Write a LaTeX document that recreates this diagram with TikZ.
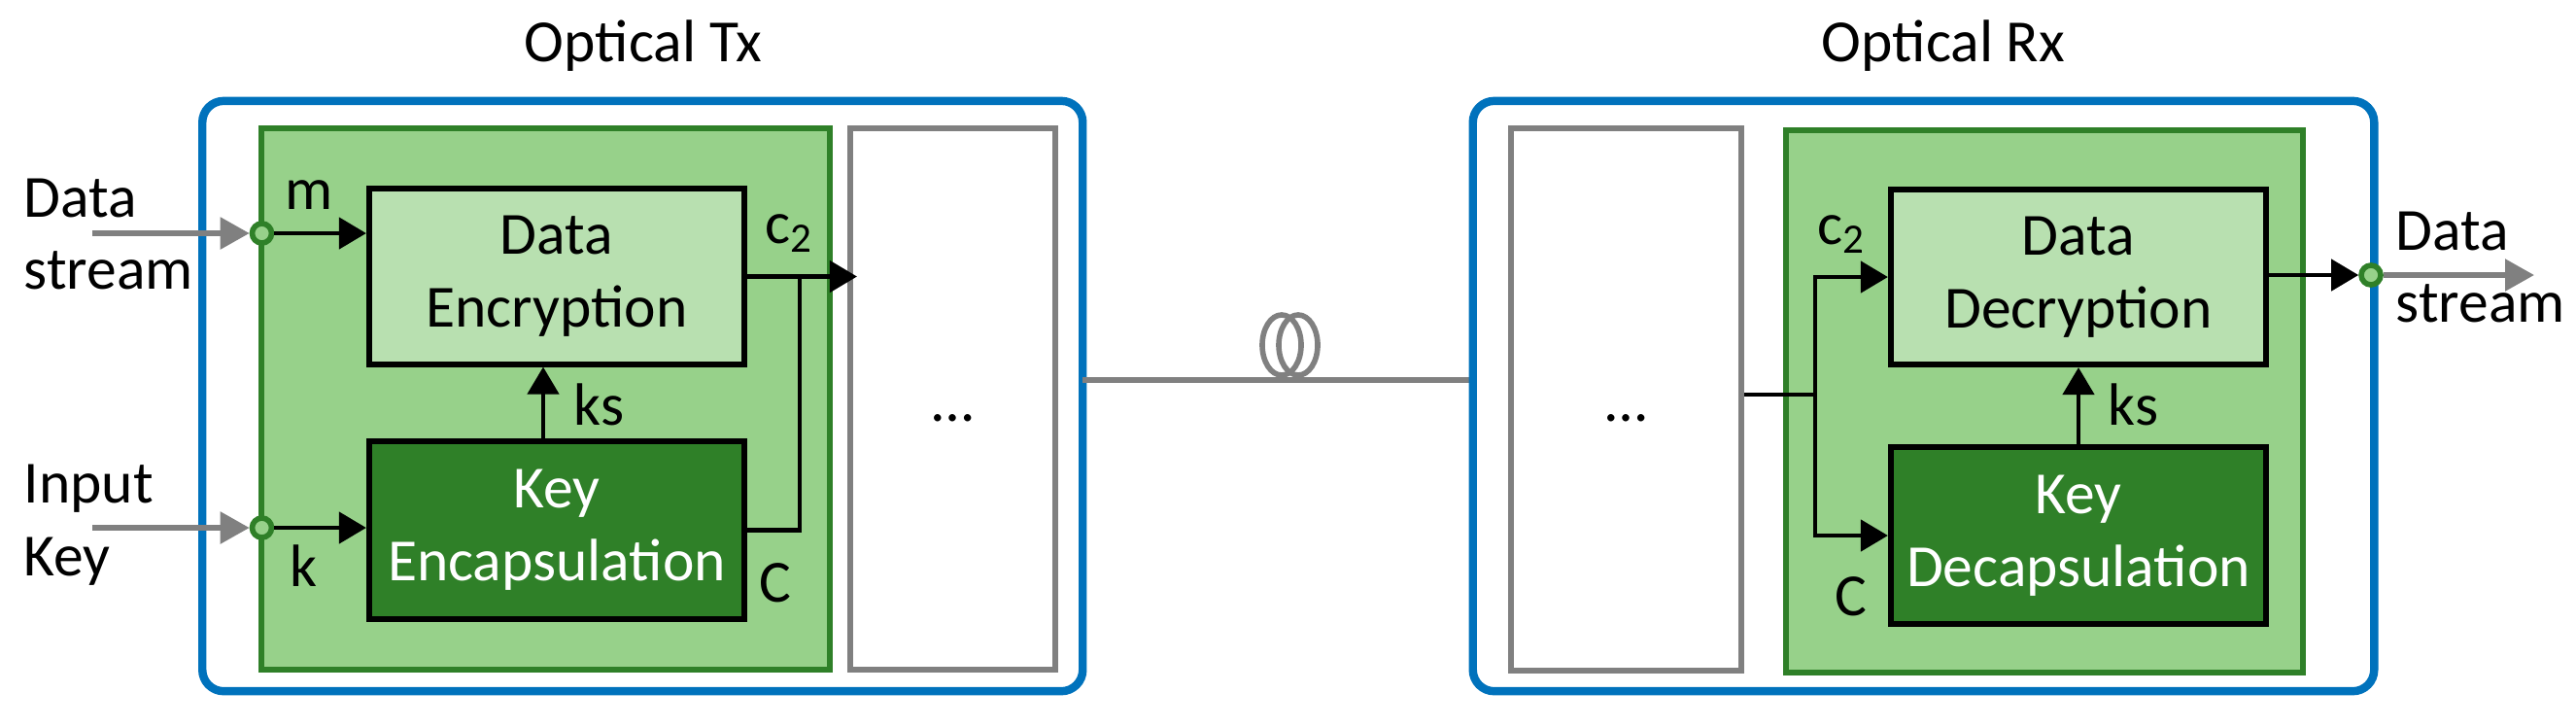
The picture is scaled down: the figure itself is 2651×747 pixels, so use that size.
\documentclass[tikz,border=0pt]{standalone}
\usepackage{fontspec}
\setmainfont{Carlito}
\usepackage{tikz}
\usetikzlibrary{arrows.meta}
\definecolor{optblue}{RGB}{0,114,188}
\definecolor{darkgrn}{RGB}{47,128,40}
\definecolor{midgrn}{RGB}{151,209,138}
\definecolor{lightgrn}{RGB}{184,224,176}
\definecolor{linegray}{RGB}{128,128,128}

\begin{document}
\begin{tikzpicture}[x=0.01cm,y=-0.01cm,
  every node/.style={font=\fontsize{17.5}{21.3}\selectfont,inner sep=0pt},
  unit/.style={draw=optblue,line width=2.4pt,rounded corners=0.22cm,minimum height=6.07cm},
  panel/.style={draw=darkgrn,fill=midgrn,line width=1.7pt,minimum height=5.57cm},
  spare/.style={draw=linegray,line width=1.7pt,minimum height=5.57cm},
  databox/.style={draw=black,fill=lightgrn,line width=1.7pt,minimum width=3.86cm,minimum height=1.8cm,align=center,
    execute at begin node={\rule{0pt}{0.52cm}}},
  keybox/.style={databox,fill=darkgrn,text=white,minimum height=1.82cm},
  port/.style={circle,draw=darkgrn,fill=midgrn,line width=1.6pt,minimum size=0.2cm},
  sig/.style={-{Triangle[length=0.28cm,width=0.32cm]},line width=1.3pt},
  wire/.style={line width=1.3pt},
  feed/.style={-{Triangle[length=0.3cm,width=0.32cm]},draw=linegray,line width=1.6pt},
  fiber/.style={draw=linegray,line width=1.6pt}]
\useasboundingbox (0,0) rectangle (2651,747);
% 光发射机
\node[unit,minimum width=9.055cm] (tx) at (661.25,407.5) {};
\node[anchor=base] (txtitle) at (662,63) {Optical Tx};
\node[panel,minimum width=5.84cm] (txpanel) at (561.5,410.5) {};
\node[spare,minimum width=2.11cm] (txspare) at (980.5,410.5) {};
\node[anchor=base] (txdots) at (980.5,433) {\dots};
\node[databox] (encr) at (573,284.5) {Data\\Encryption};
\node[keybox] (encap) at (573,545.5) {Key\\Encapsulation};
\node[port] (dinport) at (269.5,240) {};
\node[port] (kinport) at (269.5,543) {};
\node[align=left,anchor=west] (dinlbl) at (24,241) {Data\\stream};
\node[align=left,anchor=west] (kinlbl) at (24,540) {Input\\Key};
\node[anchor=base] (mlbl) at (318,215) {m};
\node[anchor=base] (klbl) at (312,603) {k};
\node[anchor=base west] (c2tx) at (787,250) {c\textsubscript{2}};
\node[anchor=base west] (ctx) at (781,619) {C};
\node[anchor=base west] (kstx) at (590,437) {ks};
\coordinate (dinsrc) at (95,240);
\coordinate (kinsrc) at (95,543);
\coordinate (txjoin) at (823,284.5);
\coordinate (txout) at (882,284.5);

\draw[feed] (dinsrc) -- (dinport);
\draw[feed] (kinsrc) -- (kinport);
\draw[sig] (dinport) -- (dinport -| encr.west);
\draw[sig] (kinport) -- (kinport -| encap.west);
\draw[sig] ([xshift=-0.14cm]encap.north) -- ([xshift=-0.14cm]encr.south);
\draw[sig] (encr.east) -- (txout);
\draw[wire] (encap.east) -| (txjoin);

% 光纤
\coordinate (fibA) at (1114,391);
\coordinate (fibB) at (1516,391);
\draw[fiber] (fibA) -- (fibB);
\draw[fiber] (1319,355) ellipse [x radius=0.2cm,y radius=0.31cm];
\draw[fiber] (1336,355) ellipse [x radius=0.2cm,y radius=0.31cm];

% 光接收机
\node[unit,minimum width=9.27cm] (rx) at (1979.5,407.5) {};
\node[anchor=base] (rxtitle) at (2000,63) {Optical Rx};
\node[spare,minimum width=2.37cm] (rxspare) at (1673.5,411) {};
\node[anchor=base] (rxdots) at (1673.5,433) {\dots};
\node[panel,minimum width=5.315cm] (rxpanel) at (2104.25,413) {};
\node[databox] (decr) at (2139,285) {Data\\Decryption};
\node[keybox] (decap) at (2139,551) {Key\\Decapsulation};
\node[port] (outport) at (2440,283) {};
\node[align=left,anchor=west] (outlbl) at (2465,275) {Data\\stream};
\node[anchor=base west] (c2rx) at (1870,251) {c\textsubscript{2}};
\node[anchor=base west] (crx) at (1888,633) {C};
\node[anchor=base west] (ksrx) at (2169,437) {ks};
\coordinate (rxjoin) at (1868,406);
\coordinate (outdst) at (2608,283);

\draw[wire] (rxspare.east |- rxjoin) -- (rxjoin);
\draw[sig] (rxjoin) |- (decr.west);
\draw[sig] (rxjoin) |- (decap.west);
\draw[sig] (decap.north) -- (decr.south);
\draw[sig] (decr.east |- outport) -- (outport);
\draw[feed] (outport) -- (outdst);
\end{tikzpicture}
\end{document}
